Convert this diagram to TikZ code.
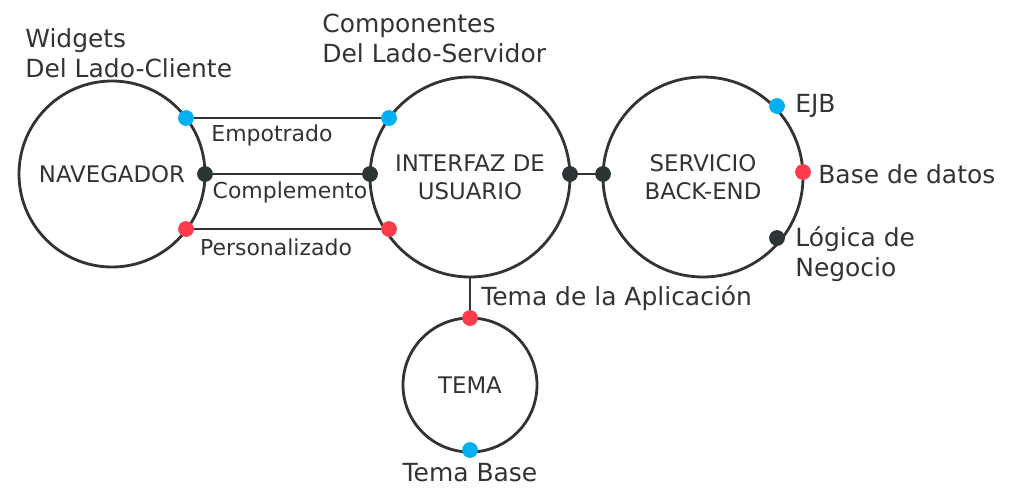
\documentclass[tikz,border=0pt]{standalone}
\usepackage{fontspec}
\setmainfont{DejaVu Sans}
\definecolor{cblue}{HTML}{00B0F0}
\definecolor{cred}{HTML}{FF3B4E}
\definecolor{cdark}{HTML}{2D3436}
\definecolor{cline}{HTML}{333333}
\begin{document}
\begin{tikzpicture}[x=0.02cm,y=-0.02cm,
  ring/.style={circle,draw=cline,line width=1.6pt,inner sep=0pt,align=center,font=\fontsize{13}{16}\selectfont,text=cline},
  dot/.style={circle,fill=#1,inner sep=0pt,minimum size=9pt},
  lab/.style={font=\fontsize{14.2}{17}\selectfont,text=cline,align=left,inner sep=0pt},
  slab/.style={font=\fontsize{12.5}{15}\selectfont,text=cline,inner sep=0pt},
  conn/.style={draw=cline,line width=1.6pt}]
\useasboundingbox (0,0) rectangle (1018,501);
\node[ring,minimum size=186*0.02cm] (nav) at (112,174) {NAVEGADOR};
\node[ring,minimum size=200*0.02cm] (ui) at (470,177) {INTERFAZ DE\\USUARIO};
\node[ring,minimum size=200*0.02cm] (srv) at (703,177) {SERVICIO\\BACK-END};
\node[ring,minimum size=134*0.02cm] (tema) at (470,385) {TEMA};
\draw[conn] (186,118) -- (389,118);
\draw[conn] (205,174) -- (370,174);
\draw[conn] (186,229) -- (389,229);
\draw[conn] (570,174) -- (603,174);
\draw[conn] (ui.south) -- (tema.north);
\node[dot=cblue] (n1) at (186,118) {};
\node[dot=cdark] (n2) at (205,174) {};
\node[dot=cred] (n3) at (186,229) {};
\node[dot=cblue] (u1) at (389,118) {};
\node[dot=cdark] (u2) at (370,174) {};
\node[dot=cred] (u3) at (389,229) {};
\node[dot=cdark] (u4) at (570,174) {};
\node[dot=cred] (u5) at (470,318) {};
\node[dot=cdark] (s1) at (603,174) {};
\node[dot=cblue] (s2) at (777,106) {};
\node[dot=cred] (s3) at (803,172) {};
\node[dot=cdark] (s4) at (777,238) {};
\node[dot=cblue] (t1) at (470,450) {};
\node[slab] at (272,135) {Empotrado};
\node[slab] at (290,192) {Complemento};
\node[slab] at (276,247) {Personalizado};
\node[lab,anchor=north west] at (25,28) {Widgets\\Del Lado-Cliente};
\node[lab,anchor=north west] at (322,14) {Componentes\\Del Lado-Servidor};
\node[lab,anchor=west] at (795,106) {EJB};
\node[lab,anchor=west] at (818,174) {Base de datos};
\node[lab,anchor=north west] at (795,226) {Lógica de\\Negocio};
\node[lab,anchor=west] at (481,298) {Tema de la Aplicación};
\node[lab] at (470,473) {Tema Base};
\end{tikzpicture}
\end{document}
